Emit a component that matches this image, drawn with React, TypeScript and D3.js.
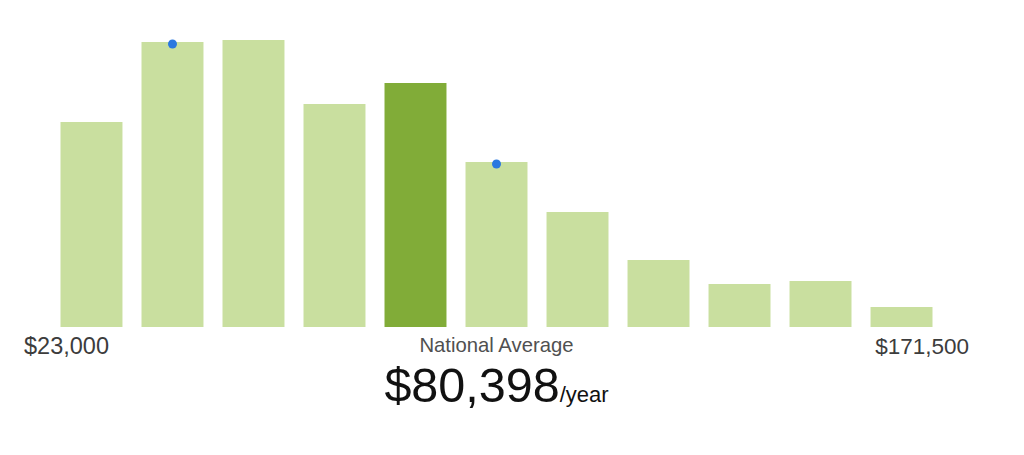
import React, { useEffect, useRef } from 'react';
import * as d3 from 'd3';

// Salary distribution buckets (share of earners, %)
const buckets = ['b1', 'b2', 'b3', 'b4', 'b5', 'b6', 'b7', 'b8', 'b9', 'b10', 'b11'];
const shares = [20.5, 28.5, 28.7, 22.3, 24.4, 16.5, 11.5, 6.7, 4.3, 4.6, 2.0];
const highlightBucket = 'b5';
const markerBuckets = ['b2', 'b6'];
const averageBucket = 'b6';

const minLabel = '$23,000';
const maxLabel = '$171,500';
const averageCaption = 'National Average';
const averageValue = '$80,398';
const averageUnit = '/year';

const SalaryChart: React.FC = () => {
  const ref = useRef<SVGSVGElement>(null);

  useEffect(() => {
    const width = 1024;
    const height = 455;
    const baseline = 327;
    const top = 40;
    const font = '"Liberation Sans", Arial, Helvetica, sans-serif';

    const svg = d3.select(ref.current).attr('width', width).attr('height', height);
    svg.selectAll('*').remove();

    // Escalas
    const x = d3.scaleBand().domain(buckets).range([60.5, 932.5]).paddingInner(0.235).paddingOuter(0);
    const y = d3.scaleLinear().domain([0, d3.max(shares) || 0]).range([baseline, top]);

    const data = buckets.map((b, i) => ({ b, v: shares[i] }));

    svg
      .selectAll('rect.bar')
      .data(data)
      .enter()
      .append('rect')
      .attr('class', 'bar')
      .attr('x', (d) => x(d.b) || 0)
      .attr('y', (d) => y(d.v))
      .attr('width', x.bandwidth())
      .attr('height', (d) => baseline - y(d.v))
      .attr('fill', (d) => (d.b === highlightBucket ? '#81ac38' : '#c9df9f'));

    // Marcadores azules
    svg
      .selectAll('circle.marker')
      .data(data.filter((d) => markerBuckets.includes(d.b)))
      .enter()
      .append('circle')
      .attr('class', 'marker')
      .attr('cx', (d) => (x(d.b) || 0) + x.bandwidth() / 2)
      .attr('cy', (d) => y(d.v) + 2)
      .attr('r', 4.5)
      .attr('fill', '#2a78e0');

    // Etiquetas
    svg
      .append('text')
      .attr('x', 24)
      .attr('y', 354)
      .attr('font-family', font)
      .attr('font-size', 23.5)
      .attr('fill', '#3c3c3c')
      .text(minLabel);

    svg
      .append('text')
      .attr('x', 969)
      .attr('y', 354)
      .attr('text-anchor', 'end')
      .attr('font-family', font)
      .attr('font-size', 22.5)
      .attr('fill', '#3c3c3c')
      .text(maxLabel);

    const center = (x(averageBucket) || 0) + x.bandwidth() / 2;

    svg
      .append('text')
      .attr('x', center)
      .attr('y', 352)
      .attr('text-anchor', 'middle')
      .attr('font-family', font)
      .attr('font-size', 20.3)
      .attr('fill', '#505050')
      .text(averageCaption);

    const big = svg
      .append('text')
      .attr('x', center)
      .attr('y', 402)
      .attr('text-anchor', 'middle')
      .attr('font-family', font)
      .attr('fill', '#111');
    big.append('tspan').attr('font-size', 48.5).text(averageValue);
    big.append('tspan').attr('font-size', 22).text(averageUnit);
  }, []);

  return <svg ref={ref} style={{ position: 'absolute', left: 0, top: 0 }}></svg>;
};

export default function App() {
  return <SalaryChart />;
}
